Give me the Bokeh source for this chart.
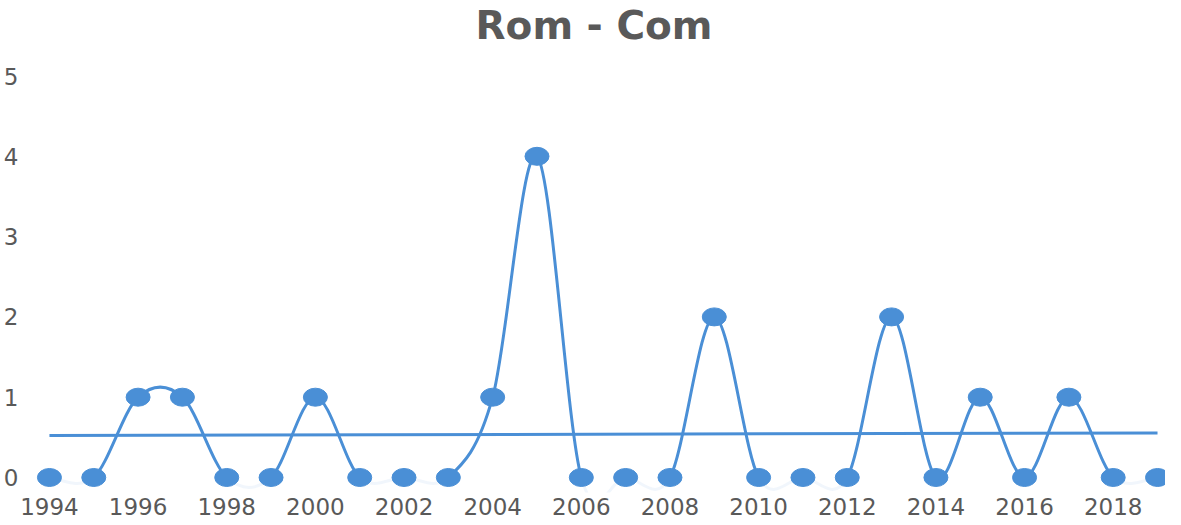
import numpy as np
from bokeh.plotting import figure
from bokeh.models import FixedTicker, ColumnDataSource, Range1d
from bokeh.embed import file_html
from bokeh.resources import INLINE

years = list(range(1994, 2020))
counts = [0, 0, 1, 1, 0, 0, 1, 0, 0, 0, 1, 4, 0, 0, 0, 2, 0, 0, 0, 2, 0, 1, 0, 1, 0, 0]
x_ticks = list(range(1994, 2019, 2))
y_ticks = [0, 1, 2, 3, 4, 5]
title_text = "Rom - Com"

BLUE = "#4a8fd6"
GRAY = "#595959"
FONT = "DejaVu Sans"

p = figure(width=1165, height=524, output_backend="svg", toolbar_location=None,
           x_range=Range1d(1993.392, 2019.180), y_range=Range1d(-0.187, 5.355),
           min_border_left=20, min_border_right=0, min_border_top=0, min_border_bottom=32)
p.title.text = title_text
p.title.align = "center"
p.title.text_font = FONT
p.title.text_font_style = "bold"
p.title.text_font_size = "39px"
p.title.text_color = GRAY
p.title.standoff = 0
p.outline_line_color = None
p.grid.visible = False

for ax in (p.xaxis[0], p.yaxis[0]):
    ax.axis_line_color = None
    ax.major_tick_line_color = None
    ax.minor_tick_line_color = None
    ax.major_tick_out = 0
    ax.major_tick_in = 0
    ax.major_label_text_font = FONT
    ax.major_label_text_font_size = "23px"
    ax.major_label_text_color = GRAY
p.xaxis.ticker = FixedTicker(ticks=x_ticks)
p.yaxis.ticker = FixedTicker(ticks=y_ticks)
p.xaxis.major_label_standoff = 5
p.yaxis.major_label_standoff = 4

# smoothed line (Catmull-Rom style Bezier through the points)
xs = np.array(years, dtype=float)
ys = np.array(counts, dtype=float)
n = len(xs)
seg = dict(x0=[], y0=[], x1=[], y1=[], cx0=[], cy0=[], cx1=[], cy1=[], a=[])
for i in range(n - 1):
    im = max(i - 1, 0)
    ip2 = min(i + 2, n - 1)
    seg["x0"].append(xs[i]); seg["y0"].append(ys[i])
    seg["x1"].append(xs[i + 1]); seg["y1"].append(ys[i + 1])
    seg["cx0"].append(xs[i] + (xs[i + 1] - xs[im]) / 6)
    seg["cy0"].append(ys[i] + (ys[i + 1] - ys[im]) / 6)
    seg["cx1"].append(xs[i + 1] - (xs[ip2] - xs[i]) / 6)
    seg["cy1"].append(ys[i + 1] - (ys[ip2] - ys[i]) / 6)
    seg["a"].append(0.08 if (ys[i] == 0 and ys[i + 1] == 0) else 1.0)
p.bezier(x0="x0", y0="y0", x1="x1", y1="y1", cx0="cx0", cy0="cy0", cx1="cx1", cy1="cy1",
         source=ColumnDataSource(seg), line_color=BLUE, line_width=3, line_alpha="a")

# linear trend line
k, b = np.polyfit(xs, ys, 1)
p.line([xs[0], xs[-1]], [k * xs[0] + b, k * xs[-1] + b], line_color=BLUE, line_width=3)

p.ellipse(x=years, y=counts, width=24, height=18, width_units="screen", height_units="screen",
          fill_color=BLUE, line_color=BLUE)

open("out.html", "w").write(file_html(p, INLINE))
